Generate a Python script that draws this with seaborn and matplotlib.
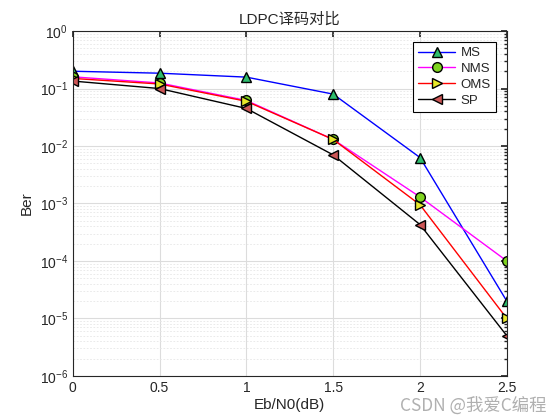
import numpy as np
import pandas as pd
import matplotlib
matplotlib.use('Agg')
import matplotlib.pyplot as plt
import seaborn as sns

# Data
ebn0 = [0, 0.5, 1, 1.5, 2, 2.5]
ber_ms = [0.20, 0.185, 0.158, 0.080, 0.0063, 2.0e-5]
ber_nms = [0.16, 0.125, 0.062, 0.013, 0.0013, 1.0e-4]
ber_oms = [0.15, 0.12, 0.060, 0.013, 0.00095, 1.0e-5]
ber_sp = [0.135, 0.10, 0.045, 0.0070, 0.00043, 5.0e-6]
names = ['MS', 'NMS', 'OMS', 'SP']

sns.set_theme(style='white')
plt.rcParams['font.family'] = ['Liberation Sans', 'Noto Sans CJK SC', 'DejaVu Sans']
plt.rcParams['axes.unicode_minus'] = False

fig = plt.figure(figsize=(5.6, 4.2), dpi=100)
ax = fig.add_axes([0.13, 0.105, 0.775, 0.821])

styles = [
    ('#0000ff', '^', '#2ebd6e'),
    ('#ff00ff', 'o', '#7fd320'),
    ('#ff0000', '>', '#e8e82a'),
    ('#000000', '<', '#cd5656'),
]
for nm, vals, (lc, mk, fc) in zip(names, [ber_ms, ber_nms, ber_oms, ber_sp], styles):
    df = pd.DataFrame({'x': ebn0, 'y': vals})
    sns.lineplot(data=df, x='x', y='y', ax=ax, color=lc, marker=mk,
                 markersize=7, markerfacecolor=fc, markeredgecolor='black',
                 markeredgewidth=1.0, linewidth=1.0, label=nm)

ax.set_yscale('log')
ax.set_xlim(0, 2.5)
ax.set_ylim(1e-6, 1)
ax.set_xticks([0, 0.5, 1, 1.5, 2, 2.5])
ax.set_xticklabels(['0', '0.5', '1', '1.5', '2', '2.5'])
ax.set_yticks([1e-6, 1e-5, 1e-4, 1e-3, 1e-2, 1e-1, 1e0])

ax.grid(True, which='major', color='#dcdcdc', linewidth=0.8, linestyle='-')
ax.grid(True, which='minor', axis='y', color='#e6e6e6', linewidth=0.6, linestyle=(0, (2, 2)))
ax.tick_params(which='both', direction='in', top=True, right=True, labelsize=10, colors='#262626')
ax.tick_params(which='major', length=4)
ax.tick_params(which='minor', length=2)
for s in ax.spines.values():
    s.set_color('#262626')
    s.set_linewidth(0.8)

ax.set_title('LDPC译码对比', fontsize=11, color='#262626', pad=5)
ax.set_xlabel('Eb/N0(dB)', fontsize=11, color='#262626', labelpad=2)
ax.set_ylabel('Ber', fontsize=11, color='#262626')

leg = ax.legend(loc='upper right', fontsize=9.5, frameon=True, fancybox=False,
                edgecolor='black', framealpha=1, borderaxespad=0.8,
                handlelength=2.8, handletextpad=0.4, labelspacing=0.28, borderpad=0.4)
leg.get_frame().set_linewidth(0.8)

fig.text(0.975, 0.012, 'CSDN @我爱C编程', ha='right', va='bottom', fontsize=12.5,
         color='#b0b0b0', family=['Noto Sans CJK SC', 'DejaVu Sans'])

fig.savefig('out.png', dpi=100)
